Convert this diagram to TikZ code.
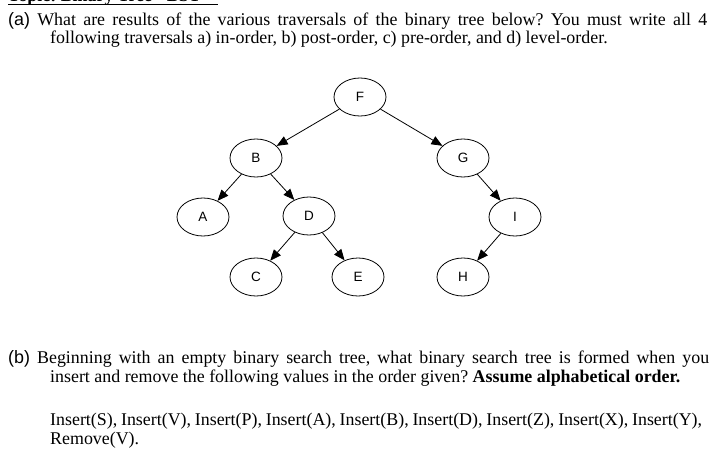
\documentclass[tikz,border=0pt]{standalone}
\usepackage{fontspec}
\setmainfont{Liberation Serif}
\setsansfont{Liberation Sans}
\usetikzlibrary{shapes.geometric,arrows.meta}
\frenchspacing
\tikzset{
  tnode/.style={ellipse,draw,line width=0.8pt,minimum width=52pt,minimum height=38pt,inner sep=0pt,font=\sffamily\fontsize{13.5}{14}\selectfont},
  tedge/.style={line width=0.8pt,-{Triangle[length=11pt,width=9pt]}},
  txt/.style={anchor=base west,inner sep=0pt,font=\fontsize{17.9}{19}\selectfont}
}
\begin{document}
\begin{tikzpicture}[x=1pt,y=-1pt]
\useasboundingbox (0,0) rectangle (724,461);
% cut-off heading
\node[txt] (head) at (8,1.5) {\textbf{Topic: Binary Tree - BST}};
\draw[line width=0.9pt] (8,4.5) -- (218,4.5);
% part (a)
\node[txt] (a1) at (8,25) {\makebox[699pt][s]{\sffamily(a)\rmfamily\ What are results of the various traversals of the binary tree below? You must write all 4}};
\node[txt] (a2) at (50,43) {following traversals a) in-order, b) post-order, c) pre-order, and d) level-order.};
% tree
\node[tnode] (F) at (360,97) {F};
\node[tnode] (B) at (256,158) {B};
\node[tnode] (G) at (463,158) {G};
\node[tnode] (A) at (203,217) {A};
\node[tnode] (D) at (309,216) {D};
\node[tnode] (I) at (515,217) {I};
\node[tnode] (C) at (256,277) {C};
\node[tnode] (E) at (358,277) {E};
\node[tnode] (H) at (463,277) {H};
\draw[tedge] (F) -- (B);
\draw[tedge] (F) -- (G);
\draw[tedge] (B) -- (A);
\draw[tedge] (B) -- (D);
\draw[tedge] (D) -- (C);
\draw[tedge] (D) -- (E);
\draw[tedge] (G) -- (I);
\draw[tedge] (I) -- (H);
% part (b)
\node[txt] (b1) at (8,363) {\makebox[701pt][s]{\sffamily(b)\rmfamily\ Beginning with an empty binary search tree, what binary search tree is formed when you}};
\node[txt] (b2) at (50,382.5) {insert and remove the following values in the order given? \textbf{Assume alphabetical order.}};
\node[txt] (b3) at (50,425) {\makebox[652pt][s]{Insert(S), Insert(V), Insert(P), Insert(A), Insert(B), Insert(D), Insert(Z), Insert(X), Insert(Y),}};
\node[txt] (b4) at (50,444.5) {Remove(V).};
\end{tikzpicture}
\end{document}
